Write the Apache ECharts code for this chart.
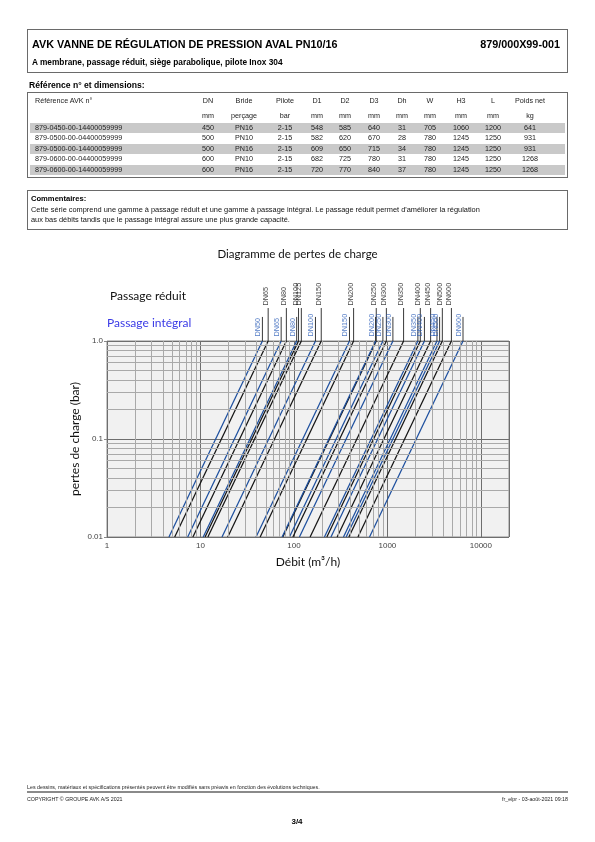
<!DOCTYPE html>
<html><head><meta charset="utf-8">
<script src="https://cdn.jsdelivr.net/npm/echarts@6/dist/echarts.min.js"></script>
<style>
html,body{margin:0;padding:0;background:#fff;}
body{width:595px;height:842px;position:relative;overflow:hidden;font-family:"Liberation Sans",Arial,sans-serif;color:#000;}
#doc{position:absolute;left:0;top:0;width:595px;height:842px;filter:grayscale(100%);}
.a{position:absolute;white-space:nowrap;line-height:1;}
.box{position:absolute;border:1px solid #6a6a6a;box-sizing:border-box;}
.band{position:absolute;background:#c9c9c9;}
.c{transform:translateX(-50%);}
.r{transform:translateX(-100%);}
#chart{position:absolute;left:0;top:235px;width:595px;height:345px;}
</style></head><body>
<div id="doc">
<div class="box" style="left:27px;top:29px;width:541px;height:44px;"></div>
<div class="a" style="left:32px;top:39px;font-size:10.8px;font-weight:bold;">AVK VANNE DE RÉGULATION DE PRESSION AVAL PN10/16</div>
<div class="a r" style="left:560px;top:39px;font-size:10.8px;font-weight:bold;">879/000X99-001</div>
<div class="a" style="left:32px;top:57.5px;font-size:8.3px;font-weight:bold;">A membrane, passage réduit, siège parabolique, pilote Inox 304</div>

<div class="a" style="left:29px;top:80.5px;font-size:8.6px;font-weight:bold;">Référence n° et dimensions:</div>
<div class="box" style="left:27px;top:92px;width:541px;height:86px;"></div>
<div id="table"></div>

<div class="box" style="left:27px;top:190px;width:541px;height:40px;"></div>
<div class="a" style="left:31px;top:195px;font-size:7.6px;font-weight:bold;">Commentaires:</div>
<div class="a" style="left:31px;top:206px;font-size:7.4px;color:#111;">Cette série comprend une gamme à passage réduit et une gamme à passage intégral. Le passage réduit permet d'améliorer la régulation</div>
<div class="a" style="left:31px;top:216px;font-size:7.4px;color:#111;">aux bas débits tandis que le passage intégral assure une plus grande capacité.</div>

<div class="a" style="left:27px;top:784.5px;font-size:5.3px;color:#222;">Les dessins, matériaux et spécifications présentés peuvent être modifiés sans préavis en fonction des évolutions techniques.</div>
<div style="position:absolute;left:27px;top:791px;width:541px;height:2px;background:#8a8a8a;"></div>
<div class="a" style="left:27px;top:796.5px;font-size:5.3px;color:#222;">COPYRIGHT © GROUPE AVK A/S 2021</div>
<div class="a r" style="left:568px;top:796.5px;font-size:5.3px;color:#222;">fr_elpr - 03-août-2021 09:18</div>
<div class="a c" style="left:297px;top:818px;font-size:8px;font-weight:bold;">3/4</div>
</div>
<div id="chart"></div>

<script>
// ---------- table content ----------
const tableHead1 = ['Référence AVK n°','DN','Bride','Pilote','D1','D2','D3','Dh','W','H3','L','Poids net'];
const tableHead2 = ['','mm','perçage','bar','mm','mm','mm','mm','mm','mm','mm','kg'];
const tableRows = [
  ['879-0450-00-14400059999','450','PN16','2-15','548','585','640','31','705','1060','1200','641'],
  ['879-0500-00-04400059999','500','PN10','2-15','582','620','670','28','780','1245','1250','931'],
  ['879-0500-00-14400059999','500','PN16','2-15','609','650','715','34','780','1245','1250','931'],
  ['879-0600-00-04400059999','600','PN10','2-15','682','725','780','31','780','1245','1250','1268'],
  ['879-0600-00-14400059999','600','PN16','2-15','720','770','840','37','780','1245','1250','1268']
];
const colX = [35, 208, 244, 285, 317, 345, 374, 402, 430, 461, 493, 530];
(function buildTable(){
  const t = document.getElementById('table');
  let html = '';
  const rowY = [101, 116];
  const dataY = [127.5, 138, 148.5, 159, 169.5];
  dataY.forEach((y, i) => { if (i % 2 === 0) html += `<div class="band" style="left:30px;top:${y-5}px;width:535px;height:10px;"></div>`; });
  function cell(txt, i, y){
    const cls = i === 0 ? 'a' : 'a c';
    return `<div class="${cls}" style="left:${colX[i]}px;top:${y-3.6}px;font-size:7.2px;color:#222;">${txt}</div>`;
  }
  tableHead1.forEach((s,i)=>{ html += cell(s,i,rowY[0]); });
  tableHead2.forEach((s,i)=>{ html += cell(s,i,rowY[1]); });
  tableRows.forEach((r,ri)=>{ r.forEach((s,i)=>{ html += cell(s,i,dataY[ri]); }); });
  t.innerHTML = html;
})();

// ---------- chart data ----------
const reducedDN      = ['DN65','DN80','DN100','DN125','DN150','DN200','DN250','DN300','DN350','DN400','DN450','DN500','DN600'];
const reducedQat1bar = [53, 83, 112, 120, 196, 435, 760, 975, 1490, 2250, 2900, 3870, 4840];
const reducedQat001  = [5.3, 8.3, 11.2, 12.0, 19.6, 43.5, 76, 97.5, 149, 225, 290, 387, 484];
const fullDN         = ['DN50','DN65','DN80','DN100','DN150','DN200','DN250','DN300','DN350','DN400','DN450','DN500','DN600'];
const fullQat1bar    = [46, 73, 107, 170, 393, 747, 895, 1145, 2120, 2490, 3390, 3620, 6440];
const fullQat001     = [4.6, 7.3, 10.7, 17.0, 39.3, 74.7, 89.5, 114.5, 212, 249, 339, 362, 644];
const dpTop = 1.0, dpBottom = 0.01;
const xMin = 1, xMax = 20000;

// ---------- styles ----------
const BLACK = '#141414', BLUE = '#1d4f9e', BLUE_TXT = '#2a5cb8';
const reducedLeaderTop = 2.17, fullLeaderTop = 1.76;

const chart = echarts.init(document.getElementById('chart'), null, {renderer:'canvas'});

// minor grid positions (2..9 of each decade)
const minorX = [], minorY = [];
for (let d = xMin; d < xMax; d *= 10) for (let m = 2; m <= 9; m++) if (d*m < xMax) minorX.push(d*m);
for (let d = dpBottom; d < dpTop - 1e-9; d *= 10) for (let m = 2; m <= 9; m++) minorY.push(+(d*m).toPrecision(3));

const series = [];
series.push({
  type:'line', data:[[1, 0.01]], symbol:'none', lineStyle:{width:0}, silent:true, z:1,
  markLine:{
    silent:true, symbol:['none','none'], animation:false,
    label:{show:false},
    lineStyle:{type:'solid', color:'#a9a9a9', width:1},
    data: minorX.map(v=>({xAxis:v})).concat(minorY.map(v=>({yAxis:v})))
  }
});

function addGroup(names, qTop, qBot, color, txtColor, leaderTop, anchorY, lblDist, lblDx){
  names.forEach((n,i)=>{
    series.push({type:'line', name:n, data:[[qBot[i], dpBottom],[qTop[i], dpTop]], symbol:'none',
      lineStyle:{color:color, width:1.25}, z:3, silent:true});
    series.push({type:'line', data:[[qTop[i], dpTop],[qTop[i], leaderTop]], symbol:'none', clip:false,
      lineStyle:{color:'#222', width:0.9}, z:4, silent:true});
  });
  series.push({type:'scatter', clip:false, symbolSize:1, itemStyle:{color:'rgba(0,0,0,0)'}, silent:true, z:5,
    data: names.map((n,i)=>({value:[qTop[i], anchorY], name:n})),
    label:{show:true, formatter:p=>p.name, position:'top', distance:lblDist, rotate:90, align:'left', verticalAlign:'middle',
      offset:[0, lblDx], fontFamily:'"Liberation Sans Narrow","Liberation Sans",Arial', fontSize:7.3, color:txtColor}
  });
}
addGroup(reducedDN, reducedQat1bar, reducedQat001, BLACK, '#111', reducedLeaderTop, reducedLeaderTop, 2, -2.5);
addGroup(fullDN, fullQat1bar, fullQat001, BLUE, BLUE_TXT, fullLeaderTop, dpTop, 4, -4);

const option = {
  animation:false,
  title:{text:'Diagramme de pertes de charge', left:'center', top:8,
    textStyle:{fontFamily:'Lato', fontSize:11.5, fontWeight:'normal', color:'#111'}},
  graphic:[
    {type:'text', left:110, top:55, style:{text:'Passage réduit', font:'12px Lato', fill:'#111'}},
    {type:'text', left:107, top:82, style:{text:'Passage intégral', font:'12px Lato', fill:'#3a3ae6'}}
  ],
  grid:{left:107, right:86, top:106, bottom:43, show:true, backgroundColor:'#f1f1f1', borderColor:'#8c8c8c', borderWidth:1},
  xAxis:{type:'log', logBase:10, min:xMin, max:xMax,
    name:'Débit (m³/h)', nameLocation:'middle', nameGap:19,
    nameTextStyle:{fontFamily:'Lato', fontSize:12, color:'#111'},
    axisLine:{show:false}, axisTick:{show:false},
    axisLabel:{fontFamily:'"Liberation Sans",Arial', fontSize:8, color:'#444', margin:5, showMaxLabel:false,
      formatter:v=>{const l=Math.log10(v); return Math.abs(l-Math.round(l))<1e-6 ? String(Math.round(v)) : '';}},
    splitLine:{show:true, lineStyle:{color:'#6e6e6e', width:1}}
  },
  yAxis:{type:'log', logBase:10, min:dpBottom, max:dpTop,
    name:'pertes de charge (bar)', nameLocation:'middle', nameGap:26, nameRotate:90, nameMoveOverlap:false,
    nameTextStyle:{fontFamily:'Lato', fontSize:12, color:'#111'},
    axisLine:{show:false}, axisTick:{show:true, length:3, lineStyle:{color:'#888'}},
    axisLabel:{fontFamily:'"Liberation Sans",Arial', fontSize:8, color:'#444', margin:4,
      formatter:v=> v >= 1 ? v.toFixed(1) : String(+v.toPrecision(2))},
    splitLine:{show:true, lineStyle:{color:'#6e6e6e', width:1}}
  },
  series: series
};
chart.setOption(option);
</script>
</body></html>
